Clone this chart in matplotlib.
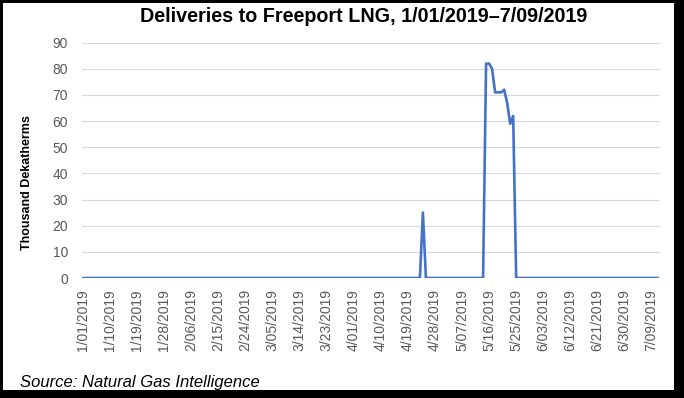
import matplotlib
matplotlib.use("Agg")
import matplotlib.pyplot as plt
from matplotlib.patches import Rectangle
import pandas as pd

plt.rcParams['font.family'] = ['Liberation Sans', 'DejaVu Sans']

title = "Deliveries to Freeport LNG, 1/01/2019\u20137/09/2019"
ylabel = "Thousand Dekatherms"
source = "Source: Natural Gas Intelligence"

# breakpoints of the delivery series (values in thousand dekatherms)
point_dates = ["2019-01-01", "2019-04-23", "2019-04-24", "2019-04-25",
               "2019-05-14", "2019-05-15", "2019-05-16", "2019-05-17",
               "2019-05-18", "2019-05-19", "2019-05-20", "2019-05-21",
               "2019-05-22", "2019-05-23", "2019-05-24", "2019-05-25",
               "2019-07-11"]
point_values = [0, 0, 25, 0,
                0, 82, 82, 80,
                71, 71, 71, 72,
                67, 59, 62, 0,
                0]

tick_dates = ["2019-01-01", "2019-01-10", "2019-01-19", "2019-01-28",
              "2019-02-06", "2019-02-15", "2019-02-24", "2019-03-05",
              "2019-03-14", "2019-03-23", "2019-04-01", "2019-04-10",
              "2019-04-19", "2019-04-28", "2019-05-07", "2019-05-16",
              "2019-05-25", "2019-06-03", "2019-06-12", "2019-06-21",
              "2019-06-30", "2019-07-09"]
y_ticks = [0, 10, 20, 30, 40, 50, 60, 70, 80, 90]

W, H = 684, 398
fig = plt.figure(figsize=(W / 100, H / 100), dpi=100)
fig.patch.set_facecolor('black')
fig.patches.append(Rectangle((3 / W, 8 / H), (674 - 3) / W, (H - 3 - 8) / H,
                             transform=fig.transFigure, facecolor='white',
                             edgecolor='none', zorder=-1))

ax = fig.add_axes([82 / W, 1 - 278 / H, (660 - 82) / W, (278 - 42.7) / H])
ax.set_facecolor('white')

start = pd.Timestamp("2019-01-01")
xs = [(pd.Timestamp(d) - start).days for d in point_dates]
ax.plot(xs, point_values, color='#4472C4', lw=1.9, solid_joinstyle='round', zorder=3)

tx = [(pd.Timestamp(d) - start).days for d in tick_dates]
tl = [f"{pd.Timestamp(d).month}/{pd.Timestamp(d).day:02d}/{pd.Timestamp(d).year}" for d in tick_dates]
ax.set_xticks(tx)
ax.set_xticklabels(tl, rotation=90, va='top', ha='center')
ax.set_xlim(-0.3, 191.8)
ax.set_ylim(0, 90)
ax.set_yticks(y_ticks)
ax.grid(axis='y', color='#d9d9d9', lw=0.8, zorder=0)
ax.grid(axis='x', visible=False)
for s in ax.spines.values():
    s.set_visible(False)
ax.tick_params(axis='both', length=0, labelsize=10, labelcolor='#595959')
ax.tick_params(axis='x', pad=8)
ax.tick_params(axis='y', pad=10)

fig.text(27 / W, 1 - 183 / H, ylabel, rotation=90, ha='center', va='center',
         fontsize=9, fontweight='bold', color='black')
fig.text(364 / W, 1 - 17 / H, title, ha='center', va='center',
         fontsize=14.2, fontweight='bold', color='black')
fig.text(20 / W, 1 - 382 / H, source, ha='left', va='center',
         fontsize=12, style='italic', color='black')

fig.savefig("out.png", dpi=100, facecolor=fig.get_facecolor())
